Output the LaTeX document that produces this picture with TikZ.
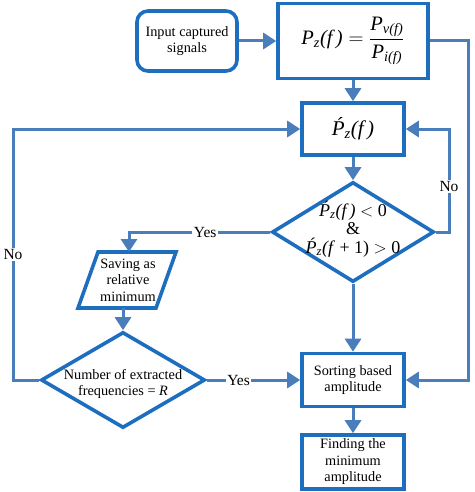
\documentclass[tikz,border=0pt]{standalone}
\usepackage{amsmath}
\usepackage{fontspec}
\setmainfont{Liberation Serif}
\usetikzlibrary{shapes.geometric,arrows.meta}
\definecolor{boxblue}{RGB}{30,110,192}
\definecolor{linkblue}{RGB}{74,126,187}
\begin{document}
\begin{tikzpicture}[x=1pt,y=-1pt,
  box/.style={draw=boxblue,line width=3.6pt,align=center,inner sep=0pt,font=\fontsize{14.3}{16.5}\selectfont},
  outline/.style={draw=boxblue,line width=3.6pt,line join=miter},
  txt/.style={align=center,inner sep=0pt,font=\fontsize{14.3}{16.5}\selectfont},
  link/.style={draw=linkblue,line width=3pt,-{Triangle[length=13pt,width=16pt]}},
  lab/.style={fill=white,inner sep=1.5pt,font=\fontsize{15.5}{17}\selectfont}]
\useasboundingbox (0,0) rectangle (474,492);
\node[box,rounded corners=11pt,minimum width=100pt,minimum height=60pt] (in) at (187,41) {Input captured\\signals};
\node[box,minimum width=150pt,minimum height=75pt,font=\fontsize{20.5}{22}\selectfont] (pz) at (353,41)
  {$\textit{P}_{\textit{z}}\textit{(f\,)} = \dfrac{\textit{P}_{\textit{v(f)}}}{\textit{P}_{\textit{i(f)}}}$};
\node[box,minimum width=102pt,minimum height=52pt,font=\fontsize{21}{23}\selectfont] (pzd) at (353,129)
  {$\textit{\'P}_{\textit{z}}\textit{(f\,)}$};
\node[box,diamond,minimum width=162pt,minimum height=100pt] (d1) at (353,232) {};
\node[txt,font=\fontsize{18}{18.5}\selectfont] (d1t) at (353,229)
  {\textit{\'P}\textsubscript{\textit{z}}\textit{(f\,)} $<$ 0\\\&\\\textit{\'P}\textsubscript{\textit{z}}\textit{(f} + 1) $>$ 0};
% parallelogram
\coordinate (p1) at (98,252);
\coordinate (p2) at (176,252);
\coordinate (p3) at (156,308);
\coordinate (p4) at (78,308);
\draw[outline] (p1) -- (p2) -- (p3) -- (p4) -- cycle;
\coordinate (partop) at (129,252);
\coordinate (parbot) at (123,308);
\node[txt] (par) at (128,280) {Saving as\\relative\\minimum};
\node[box,diamond,minimum width=164pt,minimum height=96pt] (d2) at (123,380) {};
\node[txt] (d2t) at (123,384) {Number of extracted\\frequencies = \textit{R}};
\node[box,minimum width=102pt,minimum height=53pt] (sort) at (353,380) {Sorting based\\amplitude};
\node[box,minimum width=102pt,minimum height=54pt] (find) at (353,462) {Finding the\\minimum\\amplitude};
\coordinate (cn1) at (449,232);
\coordinate (cn2) at (13,380);
\coordinate (cr) at (468,41);
\draw[link] (in.east) -- (pz.west);
\draw[link] (pz.south) -- (pzd.north);
\draw[link] (pzd.south) -- (d1.north);
\draw[link] (d1.east) -- (cn1) |- (pzd.east) node[lab,pos=0.22] {No};
\draw[link] (d1.west) -| (partop) node[lab,pos=0.23] {Yes};
\draw[link] (parbot) -- (d2.north);
\draw[link] (d2.west) -- (cn2) |- (pzd.west) node[lab,pos=0.25] {No};
\draw[link] (d2.east) -- (sort.west) node[lab,pos=0.34] {Yes};
\draw[link] (d1.south) -- (sort.north);
\draw[link] (pz.east) -- (cr) |- (sort.east);
\draw[link] (sort.south) -- (find.north);
\end{tikzpicture}
\end{document}
